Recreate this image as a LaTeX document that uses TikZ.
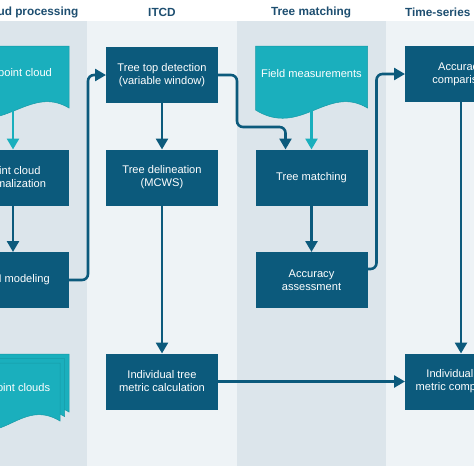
\documentclass[tikz,border=0pt]{standalone}
\usepackage{fontspec}
\setmainfont{Liberation Sans}
\usetikzlibrary{positioning,arrows.meta,calc,backgrounds}
\definecolor{boxblue}{HTML}{0C5A7C}
\definecolor{docteal}{HTML}{1AAFBD}
\definecolor{lanedark}{HTML}{DCE5EB}
\definecolor{lanelight}{HTML}{EEF3F6}
\definecolor{headblue}{HTML}{1D4E70}
\tikzset{
    every node/.style = {
        inner sep = 2pt,
        outer sep = 0pt
    },
    proc/.style = {
        fill = boxblue,
        text = white,
        align = center,
        minimum width = 112pt,
        minimum height = 56pt,
        font = \fontsize{11.1}{13}\selectfont
    },
    doc/.style = {
        text = white,
        align = center,
        minimum width = 112pt,
        minimum height = 56pt,
        font = \fontsize{11.1}{13}\selectfont
    },
    docfill/.style = {
        fill = docteal,
        draw = docteal!88!black,
        line width = 0.5pt
    },
    lanehead/.style = {
        text = headblue,
        font = \fontsize{11.8}{14}\selectfont\bfseries
    },
    flow/.style = {
        draw = boxblue,
        line width = 2.6pt,
        rounded corners = 6pt,
        -{Triangle[width = 12pt, length = 11pt]}
    },
    dataflow/.style = {
        flow,
        draw = docteal
    }
}

\begin{document}
\begin{tikzpicture}[x = 1pt, y = -1pt]
    \useasboundingbox (0,0) rectangle (474,474);

    % lane titles
    \node[lanehead] (hpc)   at (13,12)  {Point cloud processing};
    \node[lanehead] (hitcd) at (162,12) {ITCD};
    \node[lanehead] (htm)   at (311,12) {Tree matching};
    \node[lanehead, anchor = west] (hts) at (403,12) {Time-series};

    % point cloud processing
    \node[doc]  (pcraw) at (13,74)    {ALS point cloud};
    \node[proc] (norm)  at (13,177.5) {Point cloud\\normalization};
    \node[proc] (chm)   at (13,280)   {CHM modeling};
    \node[doc, minimum width = 103pt, minimum height = 52pt] (pcs) at (8.5,389) {ALS point clouds};

    % ITCD
    \node[proc] (ttd)    at (162,75)    {Tree top detection\\(variable window)};
    \node[proc] (mcws)   at (162,177.5) {Tree delineation\\(MCWS)};
    \node[proc] (metric) at (162,381.5) {Individual tree\\metric calculation};

    % tree matching
    \node[doc]  (field) at (311.5,74)    {Field measurements};
    \node[proc] (match) at (311.5,177.5) {Tree matching};
    \node[proc] (acc)   at (311.5,280)   {Accuracy\\assessment};

    % time-series
    \node[proc] (acccomp)    at (461,74)    {Accuracy\\comparison};
    \node[proc] (metriccomp) at (461,381.5) {Individual tree\\metric comparison};

    % connectors
    \draw[dataflow] (pcraw.south) -- (norm.north);
    \draw[flow] (norm) -- (chm);
    \draw[flow] (chm.east) -- ++(19,0) |- (ttd.west);
    \draw[flow] (ttd) -- (mcws);
    \draw[flow] (mcws) -- (metric);
    \draw[flow] (ttd.east) -- ++(19,0) -- ++(0,52) -| ([xshift=-26pt]match.north);
    \draw[dataflow] (field.south) -- (match.north);
    \draw[flow] (match) -- (acc);
    \draw[flow] ([yshift=11pt]acc.east) -- ++(9,0) |- (acccomp.west);
    \draw[flow] (acccomp) -- (metriccomp);
    \draw[flow] (metric) -- (metriccomp);

    \begin{pgfonlayer}{background}
        \foreach \xl/\col in {-62/lanedark, 87/lanelight, 237/lanedark, 386/lanelight}
            \fill[\col] (\xl,21) rectangle ++(151,445);
        % document shapes
        \foreach \n/\d in {pcraw/0, field/0, pcs/9, pcs/4.5, pcs/0}
            \filldraw[docfill] ($(\n.north west)+(\d,-\d)$) -- ($(\n.north east)+(\d,-\d)$)
                -- ($(\n.south east)+(\d,6-\d)$)
                .. controls ($(\n.south east)+(\d-40,-18-\d)$) and ($(\n.south west)+(\d+45,36-\d)$)
                .. ($(\n.south west)+(\d,8-\d)$) -- cycle;
    \end{pgfonlayer}
\end{tikzpicture}
\end{document}
